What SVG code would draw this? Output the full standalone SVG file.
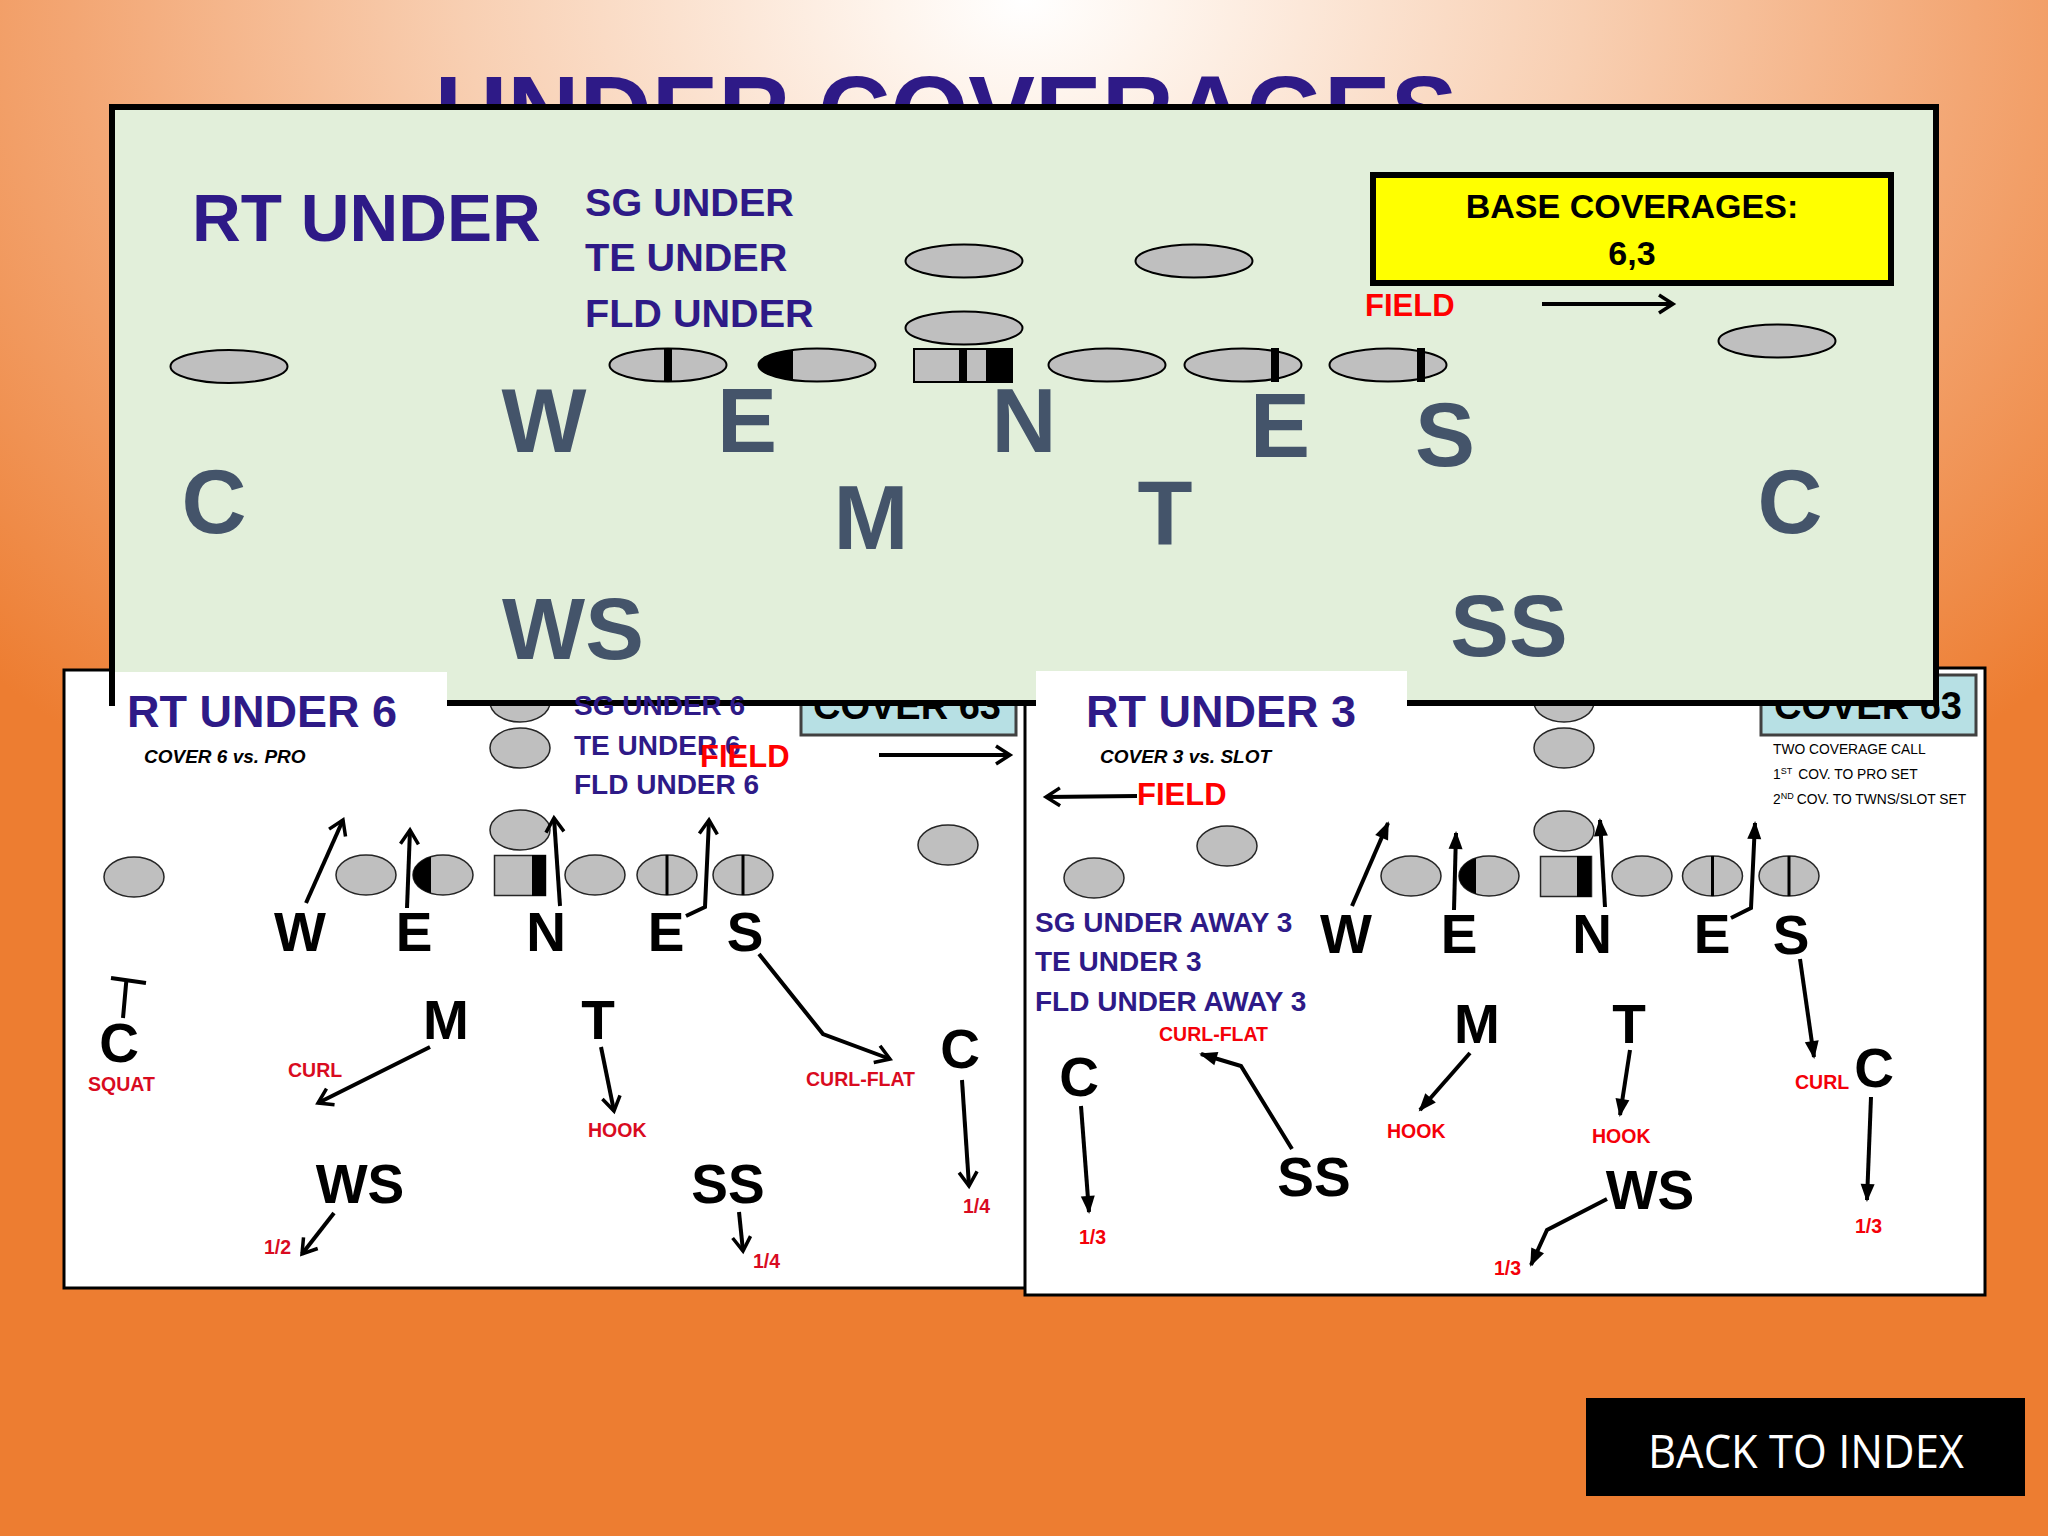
<svg xmlns="http://www.w3.org/2000/svg" width="2048" height="1536" viewBox="0 0 2048 1536">
<style>
text{font-family:"Liberation Sans",Arial,sans-serif;font-weight:700}
.title{fill:#2E1A87}
.blue{fill:#2E1A87}
.slate{fill:#44546A;font-size:90px;text-anchor:middle}
.blk{fill:#000;font-size:55px;text-anchor:middle}
.red1{fill:#D90B1F;font-size:19.5px}
.red2{fill:#F40009;font-size:19.5px}
.field{fill:#FF0000;font-size:31px}
.cov{fill:#000;font-size:19px;font-style:italic}
.note{fill:#000;font-size:13.8px;font-weight:400}
.sup{font-size:9px}
.big{fill:#BFBFBF;stroke:#000;stroke-width:2}
.sm{fill:#BFBFBF;stroke:#262626;stroke-width:1.5}
.c{fill:none;stroke:#000;stroke-width:4;stroke-linejoin:miter}
.open{marker-end:url(#openHead)}
.solid{marker-end:url(#solidHead)}
</style>
<defs>
<radialGradient id="bg" gradientUnits="userSpaceOnUse" cx="0" cy="0" r="1" gradientTransform="translate(1024 0) scale(1400 1000)">
<stop offset="0" stop-color="#FFFFFF"/>
<stop offset="0.1" stop-color="#FEF4EC"/>
<stop offset="0.4" stop-color="#F8CFB2"/>
<stop offset="0.68" stop-color="#F3A673"/>
<stop offset="1" stop-color="#ED7D31"/>
</radialGradient>
<marker id="openHead" markerUnits="userSpaceOnUse" markerWidth="24" markerHeight="24" refX="20" refY="12" orient="auto">
<path d="M6 3L20 12L6 21" fill="none" stroke="#000" stroke-width="3.5"/>
</marker>
<marker id="solidHead" markerUnits="userSpaceOnUse" markerWidth="24" markerHeight="20" refX="18" refY="10" orient="auto">
<path d="M2 3L20 10L2 17Z" fill="#000"/>
</marker>
<clipPath id="blackL"><rect x="758" y="340" width="35" height="50"/></clipPath>
</defs>
<rect id="background" width="2048" height="1536" fill="url(#bg)"/>
<text id="slide-title" class="title" x="435" y="146" font-size="100">UNDER COVERAGES</text>

<g id="panel-cover6">
<rect x="64" y="670" width="962" height="618" fill="#fff" stroke="#000" stroke-width="3"/>
<rect x="801" y="660" width="215" height="75" fill="#B7E0E4" stroke="#404040" stroke-width="3"/>
<text x="907" y="719" font-size="38" fill="#000" text-anchor="middle">COVER 63</text>
</g>
<g id="panel-cover3">
<rect x="1025" y="668" width="960" height="627" fill="#fff" stroke="#000" stroke-width="3"/>
<rect x="1761" y="675" width="215" height="60" fill="#B7E0E4" stroke="#404040" stroke-width="3"/>
<text x="1868" y="719" font-size="38" fill="#000" text-anchor="middle">COVER 63</text>
</g>
<g id="p1-hidden"><ellipse class="sm" cx="520" cy="702" rx="30" ry="20"/></g>
<g id="p2-hidden"><ellipse class="sm" cx="1564" cy="702" rx="30" ry="20"/></g>

<g id="panel-main">
<rect x="112" y="107" width="1824" height="596" fill="#E2EFDA" stroke="#000" stroke-width="6"/>
<text class="blue" x="192" y="241" font-size="67.500">RT UNDER</text>
<text class="blue" x="585" y="216" font-size="39.600">SG UNDER</text>
<text class="blue" x="585" y="271" font-size="39.600">TE UNDER</text>
<text class="blue" x="585" y="327" font-size="39.600">FLD UNDER</text>
</g>
<g id="base-box">
<rect x="1373" y="175" width="518" height="108" fill="#FFFF00" stroke="#000" stroke-width="6"/>
<text x="1632" y="218" font-size="34" fill="#000" text-anchor="middle">BASE COVERAGES:</text>
<text x="1632" y="265" font-size="34" fill="#000" text-anchor="middle">6,3</text>
</g>
<text id="main-field" class="field" x="1365" y="316">FIELD</text>
<g id="main-formation">
<ellipse class="big" cx="964" cy="261" rx="58.500" ry="16.500"/>
<ellipse class="big" cx="1194" cy="261" rx="58.500" ry="16.500"/>
<ellipse class="big" cx="964" cy="328" rx="58.500" ry="16.500"/>
<ellipse class="big" cx="229" cy="366.500" rx="58.500" ry="16.500"/>
<ellipse class="big" cx="668" cy="365" rx="58.500" ry="16.500"/>
<rect x="664" y="348" width="8" height="34"/>
<ellipse class="big" cx="817" cy="365" rx="58.500" ry="16.500"/>
<ellipse cx="817" cy="365" rx="58.500" ry="16.500" clip-path="url(#blackL)"/>
<rect x="914" y="349" width="98" height="33" fill="#BFBFBF" stroke="#000" stroke-width="2"/>
<rect x="959" y="349" width="8" height="33"/>
<rect x="986" y="349" width="26" height="33"/>
<ellipse class="big" cx="1107" cy="365" rx="58.500" ry="16.500"/>
<ellipse class="big" cx="1243" cy="365" rx="58.500" ry="16.500"/>
<rect x="1271" y="348" width="8" height="34"/>
<ellipse class="big" cx="1388" cy="365" rx="58.500" ry="16.500"/>
<rect x="1417" y="348" width="8" height="34"/>
<ellipse class="big" cx="1777" cy="341" rx="58.500" ry="16.500"/>
</g>
<g id="main-defense">
<text class="slate" x="544" y="452">W</text>
<text class="slate" x="747" y="452">E</text>
<text class="slate" x="1024" y="452">N</text>
<text class="slate" x="1280" y="457">E</text>
<text class="slate" x="1445" y="466">S</text>
<text class="slate" x="214" y="533">C</text>
<text class="slate" x="871" y="549">M</text>
<text class="slate" x="1165" y="545">T</text>
<text class="slate" x="1790" y="533">C</text>
<text class="slate" x="573" y="659" font-size="88" style="font-size:88px">WS</text>
<text class="slate" x="1509" y="656" style="font-size:88px">SS</text>
</g>

<rect id="title-box-6" x="115" y="672" width="332" height="40" fill="#fff"/>
<rect id="title-box-3" x="1036" y="671" width="371" height="40" fill="#fff"/>
<text id="title-6" class="blue" x="127" y="727" font-size="45">RT UNDER 6</text>
<text id="title-3" class="blue" x="1086" y="727" font-size="45">RT UNDER 3</text>

<g id="p1-text">
<text class="cov" x="144" y="763">COVER 6 vs. PRO</text>
<text class="blue" x="574" y="715" font-size="28">SG UNDER 6</text>
<text class="blue" x="574" y="755" font-size="28">TE UNDER 6</text>
<text class="blue" x="574" y="794" font-size="28">FLD UNDER 6</text>
<text class="field" x="700" y="767">FIELD</text>
</g>
<g id="p1-formation">
<ellipse class="sm" cx="520" cy="748" rx="30" ry="20"/>
<ellipse class="sm" cx="520" cy="830" rx="30" ry="20"/>
<ellipse class="sm" cx="134" cy="877" rx="30" ry="20"/>
<ellipse class="sm" cx="948" cy="845" rx="30" ry="20"/>
<ellipse class="sm" cx="366" cy="875" rx="30" ry="20"/>
<ellipse class="sm" cx="443" cy="875" rx="30" ry="20"/>
<path d="M431 856.700A30 20 0 0 0 431 893.300Z"/>
<rect x="494.500" y="855.500" width="51" height="40" fill="#BFBFBF" stroke="#262626" stroke-width="1.5"/>
<rect x="532" y="855" width="14" height="41"/>
<ellipse class="sm" cx="595" cy="875" rx="30" ry="20"/>
<ellipse class="sm" cx="667" cy="875" rx="30" ry="20"/>
<rect x="665.500" y="855" width="3" height="40"/>
<ellipse class="sm" cx="743" cy="875" rx="30" ry="20"/>
<rect x="741.500" y="855" width="3" height="40"/>
</g>
<g id="p1-defense">
<text class="blk" x="300" y="951">W</text>
<text class="blk" x="414" y="951">E</text>
<text class="blk" x="546" y="951">N</text>
<text class="blk" x="666" y="951">E</text>
<text class="blk" x="745" y="951">S</text>
<text class="blk" x="119" y="1062">C</text>
<text class="blk" x="446" y="1039">M</text>
<text class="blk" x="598" y="1039">T</text>
<text class="blk" x="960" y="1068">C</text>
<text class="blk" x="360" y="1203">WS</text>
<text class="blk" x="728" y="1203">SS</text>
</g>
<g id="p1-labels">
<text class="red1" x="88" y="1091">SQUAT</text>
<text class="red1" x="288" y="1077">CURL</text>
<text class="red1" x="588" y="1137">HOOK</text>
<text class="red1" x="806" y="1086">CURL-FLAT</text>
<text class="red1" x="963" y="1213">1/4</text>
<text class="red1" x="264" y="1254">1/2</text>
<text class="red1" x="753" y="1268">1/4</text>
</g>

<g id="p2-text">
<text class="cov" x="1100" y="763">COVER 3 vs. SLOT</text>
<text class="field" x="1137" y="805">FIELD</text>
<text class="note" x="1773" y="754">TWO COVERAGE CALL</text>
<text class="note" x="1773" y="779">1<tspan class="sup" dy="-5">ST</tspan><tspan dy="5" dx="6">COV. TO PRO SET</tspan></text>
<text class="note" x="1773" y="804">2<tspan class="sup" dy="-5">ND</tspan><tspan dy="5" dx="3">COV. TO TWNS/SLOT SET</tspan></text>
<text class="blue" x="1035" y="932" font-size="28">SG UNDER AWAY 3</text>
<text class="blue" x="1035" y="971" font-size="28">TE UNDER 3</text>
<text class="blue" x="1035" y="1011" font-size="28">FLD UNDER AWAY 3</text>
</g>
<g id="p2-formation">
<ellipse class="sm" cx="1094" cy="878" rx="30" ry="20"/>
<ellipse class="sm" cx="1227" cy="846" rx="30" ry="20"/>
<ellipse class="sm" cx="1564" cy="748" rx="30" ry="20"/>
<ellipse class="sm" cx="1564" cy="831" rx="30" ry="20"/>
<ellipse class="sm" cx="1411" cy="876" rx="30" ry="20"/>
<ellipse class="sm" cx="1489" cy="876" rx="30" ry="20"/>
<path d="M1476 858A30 20 0 0 0 1476 894Z"/>
<rect x="1540.500" y="856.500" width="51" height="40" fill="#BFBFBF" stroke="#262626" stroke-width="1.5"/>
<rect x="1577" y="856" width="14" height="41"/>
<ellipse class="sm" cx="1642" cy="876" rx="30" ry="20"/>
<ellipse class="sm" cx="1712.500" cy="876" rx="30" ry="20"/>
<rect x="1711" y="856" width="3" height="40"/>
<ellipse class="sm" cx="1789" cy="876" rx="30" ry="20"/>
<rect x="1787.500" y="856" width="3" height="40"/>
</g>
<g id="p2-defense">
<text class="blk" x="1346" y="953">W</text>
<text class="blk" x="1459" y="953">E</text>
<text class="blk" x="1592" y="953">N</text>
<text class="blk" x="1712" y="953">E</text>
<text class="blk" x="1791" y="954">S</text>
<text class="blk" x="1477" y="1043">M</text>
<text class="blk" x="1629" y="1043">T</text>
<text class="blk" x="1079" y="1096">C</text>
<text class="blk" x="1874" y="1087">C</text>
<text class="blk" x="1314" y="1196">SS</text>
<text class="blk" x="1650" y="1209">WS</text>
</g>
<g id="p2-labels">
<text class="red2" x="1159" y="1041">CURL-FLAT</text>
<text class="red2" x="1387" y="1138">HOOK</text>
<text class="red2" x="1592" y="1143">HOOK</text>
<text class="red2" x="1795" y="1089">CURL</text>
<text class="red2" x="1079" y="1244">1/3</text>
<text class="red2" x="1855" y="1233">1/3</text>
<text class="red2" x="1494" y="1275">1/3</text>
</g>

<g id="connectors">
<path class="c open" d="M1542 304L1673 304"/>
<path class="c open" d="M879 755L1010 755"/>
<path class="c open" d="M1137 796L1046 797"/>
<path class="c open" d="M306 903L343 820"/>
<path class="c open" d="M407 908L410 830"/>
<path class="c open" d="M560 906L554 818"/>
<path class="c open" d="M686 916L705 907L709 820"/>
<path class="c open" d="M759 954L823 1034L890 1059"/>
<path class="c" d="M123 1018L126.500 979M111 978L146 983"/>
<path class="c open" d="M430 1047L318 1103"/>
<path class="c open" d="M601 1047L614 1111"/>
<path class="c open" d="M962 1080L969 1186"/>
<path class="c open" d="M334 1213L302 1254"/>
<path class="c open" d="M739 1212L743 1251"/>
<path class="c solid" d="M1352 906L1388 823"/>
<path class="c solid" d="M1454 910L1456 833"/>
<path class="c solid" d="M1605 907L1600 820"/>
<path class="c solid" d="M1731 918L1751 908L1755 823"/>
<path class="c solid" d="M1800 959L1814 1057"/>
<path class="c solid" d="M1292 1149L1241 1066L1201 1054"/>
<path class="c solid" d="M1470 1053L1420 1110"/>
<path class="c solid" d="M1630 1050L1620 1115"/>
<path class="c solid" d="M1871 1097L1867 1200"/>
<path class="c solid" d="M1081 1106L1089 1212"/>
<path class="c solid" d="M1607 1199L1547 1230L1531 1265"/>
</g>

<g id="back-to-index">
<rect x="1586" y="1398" width="439" height="98" fill="#000"/>
<text x="1806" y="1468" font-size="46" fill="#fff" text-anchor="middle" textLength="316" lengthAdjust="spacingAndGlyphs" style="font-family:'Open Sans',sans-serif;font-weight:400">BACK TO INDEX</text>
</g>
</svg>
